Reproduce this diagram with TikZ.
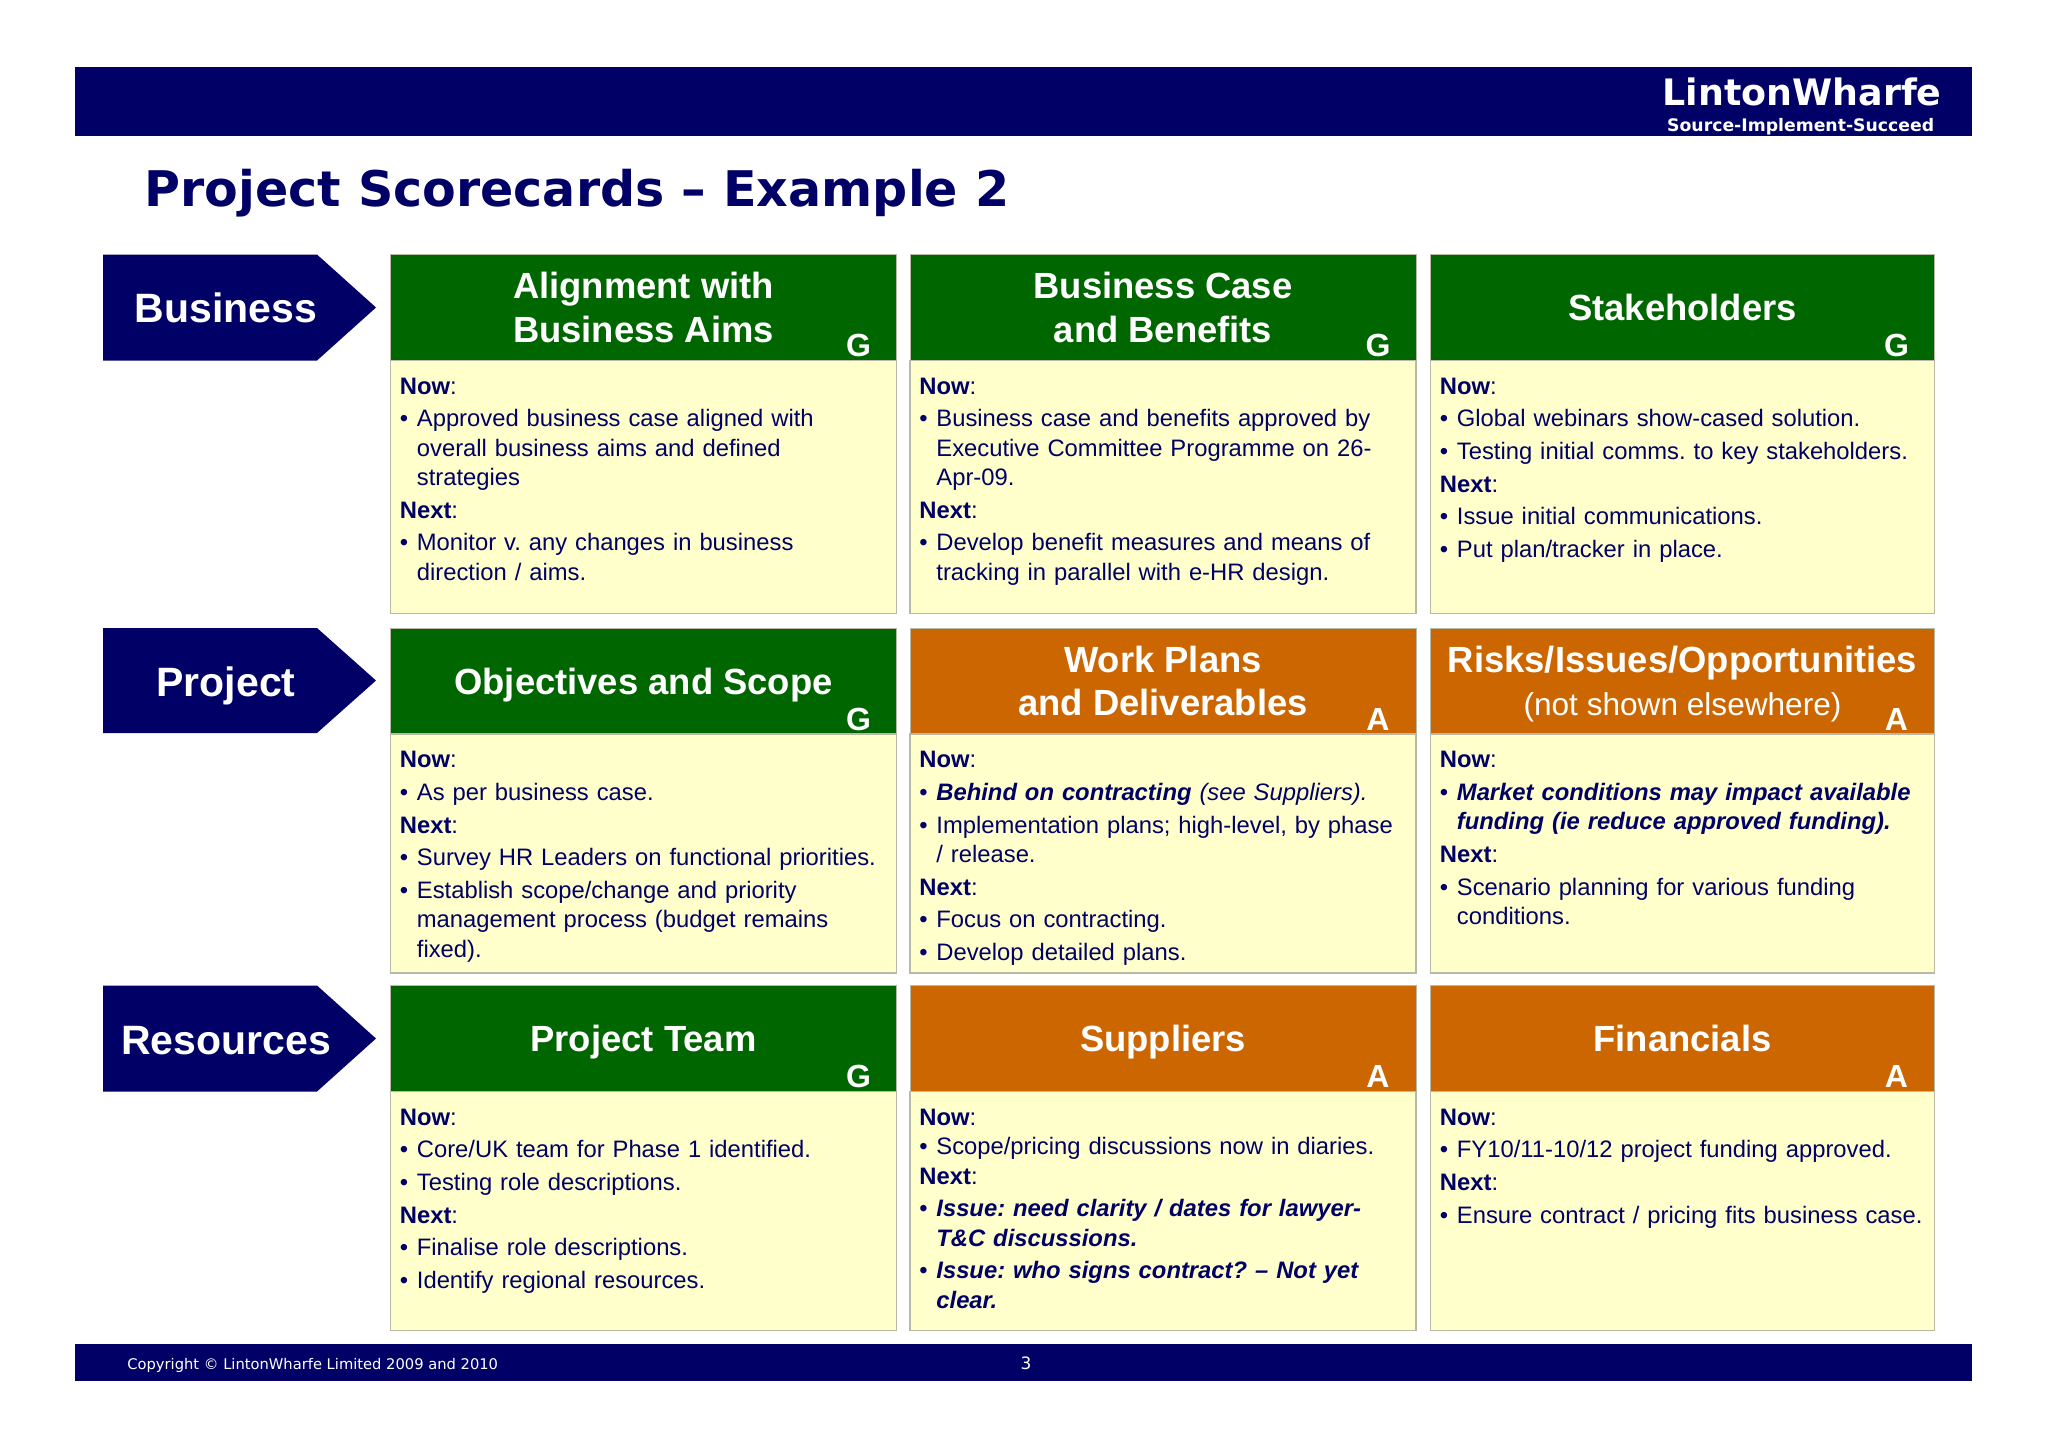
\documentclass[tikz,border=0pt]{standalone}
\usepackage{fontspec}
\setmainfont{Liberation Sans}
\newfontfamily\logofont{DejaVu Sans}
\usepackage{tikz}
\usetikzlibrary{positioning,calc}

\definecolor{navy}{HTML}{000066}
\definecolor{goodgreen}{HTML}{006600}
\definecolor{amber}{HTML}{CC6600}
\definecolor{paleyellow}{HTML}{FFFFCC}
\definecolor{cardedge}{HTML}{B9B9A6}

\tikzset{
    cardhead/.style={draw=cardedge, line width=0.4pt, inner sep=0pt, outer sep=0pt, anchor=north west, align=center, text=white, text height=13pt, text depth=0pt, font=\fontsize{18.2}{21.6}\selectfont\bfseries},
    greenhead/.style={fill=goodgreen},
    amberhead/.style={fill=amber},
    twolines/.style={text height=34.6pt},
    cardbody/.style={fill=paleyellow, draw=cardedge, line width=0.6pt, inner sep=0pt, outer sep=0pt},
    cardtext/.style={anchor=north west, inner sep=0pt, text=navy, text width=255pt, align=left, font=\fontsize{11.9}{14.7}\selectfont\frenchspacing},
    ragmark/.style={text=white, inner sep=0pt, font=\fontsize{16}{16}\selectfont\bfseries},
    rowtext/.style={text=white, inner sep=0pt, text height=14.7pt, text depth=0pt, font=\fontsize{20.5}{24}\selectfont\bfseries}
}

\newcommand{\cardsec}[2][1.6pt]{\par\vspace{#1}\noindent\textbf{#2}:\par}
\newcommand{\cardbul}[2][1.6pt]{\par\vspace{#1}\noindent\hangindent=8.5pt\hangafter=1\hbox to 8.5pt{\textbullet\hss}#2\par}

% name, x, y, width, body height, head styles, title, rag letter, body text
\newcommand{\card}[9]{
    \node[cardhead, #6, minimum width=#4*0.5pt, minimum height=53pt] (#1h) at (#2, #3) {#7};
    \node[cardbody, minimum width=#4*0.5pt, minimum height=#5*0.5pt, below=0pt of #1h] (#1b) {};
    \node[ragmark] (#1r) at ([shift={(-38, -15)}]#1h.south east) {#8};
    \node[cardtext] (#1t) at ([shift={(9, 4)}]#1b.north west) {#9};
}

\begin{document}
\begin{tikzpicture}[x=0.5pt, y=-0.5pt]
    \useasboundingbox (0, 0) rectangle (2048, 1447);

    % Top bar
    \fill[navy] (75, 67) rectangle (1972, 136);
    \node[anchor=base east, inner sep=0pt, text=white, font=\logofont\fontsize{18.2}{20}\selectfont\bfseries] (logo) at (1942, 105) {LintonWharfe};
    \node[anchor=base east, inner sep=0pt, text=white, font=\logofont\fontsize{8.63}{10}\selectfont\bfseries] (motto) at (1934.5, 131.5) {Source-Implement-Succeed};
    \node[anchor=base west, inner sep=0pt, text=navy, font=\logofont\fontsize{24.55}{26}\selectfont\bfseries] (title) at (144, 206) {Project Scorecards – Example 2};

    % Row arrows
    \fill[navy] (103, 254.5) -- (317, 254.5) -- (376, 307.5) -- (317, 360.5) -- (103, 360.5) -- cycle;
    \fill[navy] (103, 628) -- (317, 628) -- (376, 680.5) -- (317, 733) -- (103, 733) -- cycle;
    \fill[navy] (103, 985.5) -- (317, 985.5) -- (376, 1038.5) -- (317, 1091.5) -- (103, 1091.5) -- cycle;
    \node[rowtext] (business) at (226, 308) {Business};
    \node[rowtext] (project) at (226, 682) {Project};
    \node[rowtext] (resources) at (226, 1040) {Resources};

    % Business row
    \card{aims}{390.5}{254.5}{506}{253}{greenhead, twolines}{Alignment with\\Business Aims}{G}{%
        \cardsec[0pt]{Now}
        \cardbul{Approved business case aligned with\newline overall business aims and defined\newline strategies}
        \cardsec{Next}
        \cardbul{Monitor v. any changes in business\newline direction / aims.}}
    \card{case}{910}{254.5}{506}{253}{greenhead, twolines}{Business Case\\and Benefits}{G}{%
        \cardsec[0pt]{Now}
        \cardbul{Business case and benefits approved by\newline Executive Committee Programme on 26-\newline Apr-09.}
        \cardsec{Next}
        \cardbul{Develop benefit measures and means of\newline tracking in parallel with e-HR design.}}
    \card{stake}{1430.5}{254.5}{504}{253}{greenhead}{Stakeholders}{G}{%
        \cardsec[0pt]{Now}
        \cardbul{Global webinars show-cased solution.}
        \cardbul{Testing initial comms. to key stakeholders.}
        \cardsec{Next}
        \cardbul{Issue initial communications.}
        \cardbul{Put plan/tracker in place.}}

    % Project row
    \card{scope}{390.5}{628}{506}{239}{greenhead}{Objectives and Scope}{G}{%
        \cardsec[0pt]{Now}
        \cardbul{As per business case.}
        \cardsec{Next}
        \cardbul{Survey HR Leaders on functional priorities.}
        \cardbul{Establish scope/change and priority\newline management process (budget remains\newline fixed).}}
    \card{plans}{910}{628}{506}{239}{amberhead, twolines}{Work Plans\\and Deliverables}{A}{%
        \cardsec[0pt]{Now}
        \cardbul{\textbf{\textit{Behind on contracting}} \textit{(see Suppliers).}}
        \cardbul{Implementation plans; high-level, by phase\newline / release.}
        \cardsec{Next}
        \cardbul{Focus on contracting.}
        \cardbul{Develop detailed plans.}}
    \card{risks}{1430.5}{628}{504}{239}{amberhead, twolines}{Risks/Issues/Opportunities\\{\mdseries\fontsize{15.8}{21.6}\selectfont (not shown elsewhere)}}{A}{%
        \cardsec[0pt]{Now}
        \cardbul{\textbf{\textit{Market conditions may impact available\newline funding (ie reduce approved funding).}}}
        \cardsec{Next}
        \cardbul{Scenario planning for various funding\newline conditions.}}

    % Resources row
    \card{team}{390.5}{985.5}{506}{239}{greenhead}{Project Team}{G}{%
        \cardsec[0pt]{Now}
        \cardbul{Core/UK team for Phase 1 identified.}
        \cardbul{Testing role descriptions.}
        \cardsec{Next}
        \cardbul{Finalise role descriptions.}
        \cardbul{Identify regional resources.}}
    \card{supply}{910}{985.5}{506}{239}{amberhead}{Suppliers}{A}{%
        \cardsec[0pt]{Now}
        \cardbul[0pt]{Scope/pricing discussions now in diaries.}
        \cardsec[0pt]{Next}
        \cardbul{\textbf{\textit{Issue: need clarity / dates for lawyer-\newline T\&C discussions.}}}
        \cardbul{\textbf{\textit{Issue: who signs contract? – Not yet\newline clear.}}}}
    \card{money}{1430.5}{985.5}{504}{239}{amberhead}{Financials}{A}{%
        \cardsec[0pt]{Now}
        \cardbul{FY10/11-10/12 project funding approved.}
        \cardsec{Next}
        \cardbul{Ensure contract / pricing fits business case.}}

    % Bottom bar
    \fill[navy] (75, 1344) rectangle (1972, 1381);
    \node[anchor=base west, inner sep=0pt, text=white, font=\logofont\fontsize{7.35}{9}\selectfont] (copyright) at (127, 1369.5) {Copyright © LintonWharfe Limited 2009 and 2010};
    \node[anchor=base, inner sep=0pt, text=white, font=\logofont\fontsize{8.5}{9}\selectfont] (pagenum) at (1026, 1369.5) {3};
\end{tikzpicture}
\end{document}
